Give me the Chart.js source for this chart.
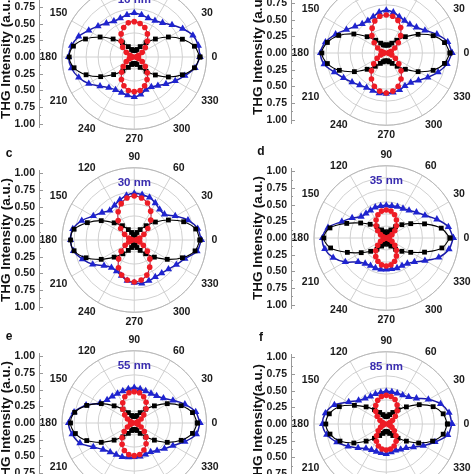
<!DOCTYPE html>
<html>
<head>
<meta charset="utf-8">
<script src="https://cdn.jsdelivr.net/npm/chart.js@4.4.0/dist/chart.umd.min.js"></script>
<style>
  html, body { margin: 0; padding: 0; background: #fff; width: 474px; height: 474px; overflow: hidden; position: relative; }
  canvas { position: absolute; }
</style>
</head>
<body>
<canvas id="panel0" width="252" height="200" style="left:-15px;top:-43px"></canvas>
<canvas id="panel1" width="252" height="200" style="left:237px;top:-47px"></canvas>
<canvas id="panel2" width="252" height="200" style="left:-15px;top:140px"></canvas>
<canvas id="panel3" width="252" height="200" style="left:237px;top:138px"></canvas>
<canvas id="panel4" width="252" height="200" style="left:-15px;top:323px"></canvas>
<canvas id="panel5" width="252" height="200" style="left:237px;top:324px"></canvas>
<script>
// polarisation angle (deg) of every measured point
const angles = [0,10,20,30,40,50,60,70,80,90,100,110,120,130,140,150,160,170,
                180,190,200,210,220,230,240,250,260,270,280,290,300,310,320,330,340,350];
const angleLabels = [0,30,60,90,120,150,180,210,240,270,300,330];
const yTickValues = [-1,-0.75,-0.5,-0.25,0,0.25,0.5,0.75,1];
const yTickLabels = ['1.00','0.75','0.50','0.25','0.00','0.25','0.50','0.75','1.00'];
const panelLetters = ['a','b','c','d','e','f'];
const sizeLabels = ['16 nm','25 nm','30 nm','35 nm','55 nm','85 nm'];
const yTitles = ['THG Intensity (a.u.)','THG Intensity (a.u.)','THG Intensity (a.u.)',
                 'THG Intensity (a.u.)','THG Intensity (a.u.)','THG Intensity(a.u.)'];

// blue triangles
const tri16 = [1.00,0.99,0.95,0.85,0.75,0.67,0.63,0.62,0.64,0.66,0.64,0.62,0.62,0.66,0.72,0.80,0.90,0.97,
               1.00,0.97,0.90,0.80,0.68,0.60,0.57,0.57,0.58,0.60,0.57,0.52,0.52,0.56,0.63,0.72,0.82,0.94];
const tri25 = [1.00,0.95,0.82,0.68,0.60,0.56,0.56,0.58,0.62,0.64,0.62,0.58,0.56,0.57,0.62,0.70,0.82,0.94,
               1.00,0.96,0.84,0.75,0.68,0.63,0.60,0.60,0.61,0.61,0.60,0.59,0.57,0.58,0.64,0.73,0.84,0.94];
const tri30 = [1.02,0.98,0.87,0.72,0.60,0.60,0.64,0.68,0.69,0.70,0.68,0.64,0.60,0.58,0.64,0.72,0.85,0.95,
               0.97,0.94,0.84,0.73,0.60,0.54,0.54,0.57,0.62,0.64,0.66,0.65,0.64,0.65,0.68,0.74,0.82,0.97];
const tri35 = [1.02,0.96,0.82,0.68,0.60,0.54,0.51,0.50,0.49,0.49,0.49,0.49,0.48,0.48,0.50,0.60,0.72,0.90,
               0.97,0.95,0.86,0.72,0.56,0.50,0.48,0.48,0.48,0.47,0.47,0.48,0.48,0.50,0.56,0.68,0.85,0.97];
const tri55 = [1.00,0.95,0.82,0.68,0.58,0.53,0.51,0.51,0.52,0.53,0.52,0.51,0.51,0.52,0.54,0.60,0.78,0.93,
               1.00,0.96,0.88,0.72,0.62,0.57,0.55,0.54,0.52,0.51,0.51,0.50,0.50,0.54,0.60,0.68,0.82,0.96];
const tri85 = [1.00,0.97,0.88,0.74,0.60,0.53,0.50,0.49,0.49,0.49,0.48,0.48,0.48,0.50,0.55,0.66,0.84,0.94,
               0.97,0.92,0.80,0.67,0.56,0.48,0.45,0.44,0.44,0.45,0.43,0.42,0.44,0.47,0.54,0.65,0.79,0.95];

// black squares
const sq16 = [1.00,0.93,0.78,0.60,0.42,0.28,0.18,0.12,0.10,0.10,0.10,0.12,0.18,0.28,0.42,0.60,0.79,0.94,
              0.99,0.93,0.78,0.59,0.41,0.27,0.18,0.12,0.10,0.10,0.10,0.12,0.18,0.28,0.42,0.60,0.78,0.93];
const sq25 = [0.97,0.90,0.76,0.56,0.38,0.25,0.17,0.13,0.12,0.12,0.12,0.13,0.17,0.25,0.38,0.57,0.77,0.91,
              0.98,0.91,0.76,0.56,0.38,0.26,0.18,0.14,0.12,0.12,0.12,0.14,0.18,0.26,0.38,0.56,0.76,0.90];
const sq30 = [1.00,0.95,0.80,0.60,0.42,0.28,0.18,0.12,0.08,0.07,0.08,0.12,0.18,0.28,0.40,0.58,0.76,0.93,
              0.97,0.93,0.78,0.58,0.40,0.27,0.18,0.12,0.08,0.07,0.08,0.12,0.18,0.27,0.40,0.58,0.78,0.94];
const sq35 = [0.97,0.85,0.62,0.43,0.31,0.22,0.14,0.10,0.07,0.06,0.07,0.10,0.14,0.22,0.32,0.45,0.64,0.87,
              0.95,0.86,0.63,0.44,0.31,0.22,0.14,0.10,0.07,0.06,0.07,0.10,0.14,0.22,0.31,0.43,0.62,0.86];
const sq55 = [0.96,0.90,0.76,0.58,0.40,0.27,0.18,0.12,0.10,0.10,0.10,0.12,0.18,0.27,0.40,0.58,0.77,0.92,
              0.97,0.91,0.77,0.58,0.40,0.27,0.18,0.12,0.10,0.10,0.10,0.12,0.18,0.27,0.40,0.58,0.76,0.90];
const sq85 = [0.93,0.88,0.76,0.58,0.40,0.28,0.20,0.15,0.12,0.11,0.12,0.15,0.20,0.28,0.40,0.56,0.76,0.88,
              0.92,0.87,0.75,0.57,0.40,0.28,0.20,0.15,0.12,0.11,0.12,0.15,0.20,0.28,0.40,0.57,0.75,0.88];

// red circles
const dot16 = [0.03,0.04,0.07,0.14,0.22,0.31,0.40,0.47,0.51,0.53,0.52,0.47,0.40,0.31,0.23,0.14,0.07,0.04,
               0.03,0.04,0.08,0.14,0.22,0.30,0.39,0.46,0.51,0.52,0.51,0.46,0.39,0.31,0.22,0.14,0.07,0.04];
const dot25 = [0.03,0.05,0.08,0.15,0.24,0.34,0.44,0.52,0.56,0.57,0.56,0.51,0.43,0.34,0.24,0.15,0.08,0.04,
               0.03,0.05,0.09,0.16,0.25,0.35,0.45,0.53,0.58,0.60,0.58,0.53,0.45,0.35,0.25,0.16,0.09,0.05];
const dot30 = [0.03,0.05,0.09,0.17,0.27,0.39,0.50,0.59,0.64,0.66,0.64,0.58,0.49,0.38,0.27,0.17,0.09,0.05,
               0.03,0.05,0.09,0.16,0.26,0.37,0.48,0.56,0.61,0.63,0.61,0.56,0.47,0.37,0.26,0.16,0.09,0.05];
const dot35 = [0.02,0.03,0.05,0.10,0.17,0.24,0.31,0.37,0.41,0.42,0.41,0.37,0.31,0.24,0.17,0.10,0.05,0.03,
               0.02,0.03,0.05,0.10,0.17,0.25,0.32,0.37,0.41,0.42,0.41,0.37,0.31,0.24,0.17,0.10,0.05,0.03];
const dot55 = [0.03,0.04,0.06,0.12,0.19,0.28,0.36,0.42,0.46,0.47,0.46,0.42,0.35,0.27,0.19,0.12,0.06,0.04,
               0.03,0.04,0.06,0.12,0.20,0.29,0.37,0.44,0.48,0.49,0.48,0.43,0.36,0.28,0.20,0.12,0.06,0.04];
const dot85 = [0.03,0.04,0.06,0.11,0.18,0.26,0.33,0.39,0.42,0.43,0.42,0.38,0.32,0.25,0.18,0.11,0.06,0.04,
               0.03,0.04,0.06,0.10,0.16,0.23,0.30,0.35,0.38,0.39,0.38,0.35,0.30,0.23,0.16,0.10,0.06,0.04];

const triSets = [tri16, tri25, tri30, tri35, tri55, tri85];
const sqSets = [sq16, sq25, sq30, sq35, sq55, sq85];
const dotSets = [dot16, dot25, dot30, dot35, dot55, dot85];

const FONT = 'Liberation Sans, Arial, sans-serif';
const R_OUT = 1.1;

// polar (deg, r) -> x/y points, loop closed
function toXY(rs) {
  const pts = rs.map((r, i) => {
    const a = angles[i] * Math.PI / 180;
    return {x: r * Math.cos(a), y: r * Math.sin(a)};
  });
  pts.push(pts[0]);
  return pts;
}

const polarFrame = {
  id: 'polarFrame',
  beforeDatasetsDraw(chart) {
    const ctx = chart.ctx;
    const x = chart.scales.x, y = chart.scales.y;
    const cx = x.getPixelForValue(0), cy = y.getPixelForValue(0);
    const u = x.getPixelForValue(1) - cx;
    ctx.save();
    ctx.strokeStyle = '#d0d0d0';
    ctx.lineWidth = 1;
    for (let i = 1; i <= 6; i++) {
      ctx.beginPath();
      ctx.arc(cx, cy, u * R_OUT * i / 6, 0, Math.PI * 2);
      ctx.stroke();
    }
    angleLabels.forEach(a => {
      const t = a * Math.PI / 180;
      ctx.beginPath();
      ctx.moveTo(cx, cy);
      ctx.lineTo(cx + u * R_OUT * Math.cos(t), cy - u * R_OUT * Math.sin(t));
      ctx.stroke();
    });
    ctx.strokeStyle = '#b8b8b8';
    ctx.beginPath();
    ctx.arc(cx, cy, u * R_OUT, 0, Math.PI * 2);
    ctx.stroke();
    ctx.restore();
  },
  afterDraw(chart, args, opts) {
    const ctx = chart.ctx;
    const x = chart.scales.x, y = chart.scales.y;
    const cx = x.getPixelForValue(0), cy = y.getPixelForValue(0);
    const u = x.getPixelForValue(1) - cx;
    ctx.save();
    // angle labels
    ctx.fillStyle = '#1a1a1a';
    ctx.font = 'bold 10.5px ' + FONT;
    const R = u * R_OUT + 5;
    angleLabels.forEach(a => {
      const t = a * Math.PI / 180;
      const c = Math.cos(t), s = Math.sin(t);
      ctx.textAlign = c > 0.1 ? 'left' : (c < -0.1 ? 'right' : 'center');
      ctx.textBaseline = s > 0.1 ? 'bottom' : (s < -0.1 ? 'top' : 'middle');
      ctx.fillText(String(a), cx + R * c, cy - R * s);
    });
    // size label
    ctx.fillStyle = '#3a2db0';
    ctx.font = 'bold 11.5px ' + FONT;
    ctx.textAlign = 'center';
    ctx.textBaseline = 'middle';
    ctx.fillText(opts.size, cx, y.getPixelForValue(0.86));
    // panel letter
    ctx.fillStyle = '#111';
    ctx.font = 'bold 12px ' + FONT;
    ctx.fillText(opts.letter, 24, cy - 86);
    // inward ticks on the left axis
    ctx.strokeStyle = '#999';
    ctx.lineWidth = 1;
    const ax = y.right;
    for (let k = 0; k <= 16; k++) {
      const v = -1 + k * 0.125;
      const py = Math.round(y.getPixelForValue(v)) + 0.5;
      ctx.beginPath();
      ctx.moveTo(ax, py);
      ctx.lineTo(ax + (k % 2 === 0 ? 4 : 2), py);
      ctx.stroke();
    }
    ctx.restore();
  }
};

function makePanel(i) {
  const ctx = document.getElementById('panel' + i).getContext('2d');
  return new Chart(ctx, {
    type: 'scatter',
    data: {
      datasets: [
        {
          data: toXY(dotSets[i]),
          showLine: true, tension: 0.35, clip: false,
          borderColor: '#b0143a', borderWidth: 1.1,
          pointStyle: 'circle', pointRadius: 2.8,
          pointBackgroundColor: '#ee1c25', pointBorderColor: '#ee1c25', pointBorderWidth: 0
        },
        {
          data: toXY(sqSets[i]),
          showLine: true, tension: 0.35, clip: false,
          borderColor: '#000', borderWidth: 1.1,
          pointStyle: 'rect', pointRadius: 3.4,
          pointBackgroundColor: '#000', pointBorderColor: '#000', pointBorderWidth: 0
        },
        {
          data: toXY(triSets[i]),
          showLine: true, tension: 0.35, clip: false,
          borderColor: '#1b1ba8', borderWidth: 1.5,
          pointStyle: 'triangle', pointRadius: 4.2,
          pointBackgroundColor: '#1f24d0', pointBorderColor: '#1f24d0', pointBorderWidth: 0
        }
      ]
    },
    options: {
      responsive: false,
      animation: false,
      devicePixelRatio: 1,
      layout: {padding: {top: 30, bottom: 30, left: 0, right: 0}},
      elements: {line: {capBezierPoints: false}},
      plugins: {
        legend: {display: false},
        tooltip: {enabled: false},
        polarFrame: {letter: panelLetters[i], size: sizeLabels[i]}
      },
      scales: {
        x: {type: 'linear', min: -1.45, max: 1.5, display: false},
        y: {
          type: 'linear', min: -1.05, max: 1.05,
          afterFit(scale) { scale.width = 54; },
          afterBuildTicks(scale) { scale.ticks = yTickValues.map(v => ({value: v})); },
          ticks: {
            callback: (v, idx) => yTickLabels[idx],
            font: {family: FONT, size: 10.5, weight: 'bold'},
            color: '#1a1a1a', padding: 4
          },
          grid: {drawOnChartArea: false, drawTicks: false},
          border: {display: true, color: '#999', width: 1},
          title: {
            display: true, text: yTitles[i],
            font: {family: FONT, size: 13.5, weight: 'bold'},
            color: '#111', padding: {top: 13, bottom: 0}
          }
        }
      }
    },
    plugins: [polarFrame]
  });
}

for (let i = 0; i < 6; i++) makePanel(i);
</script>
</body>
</html>
